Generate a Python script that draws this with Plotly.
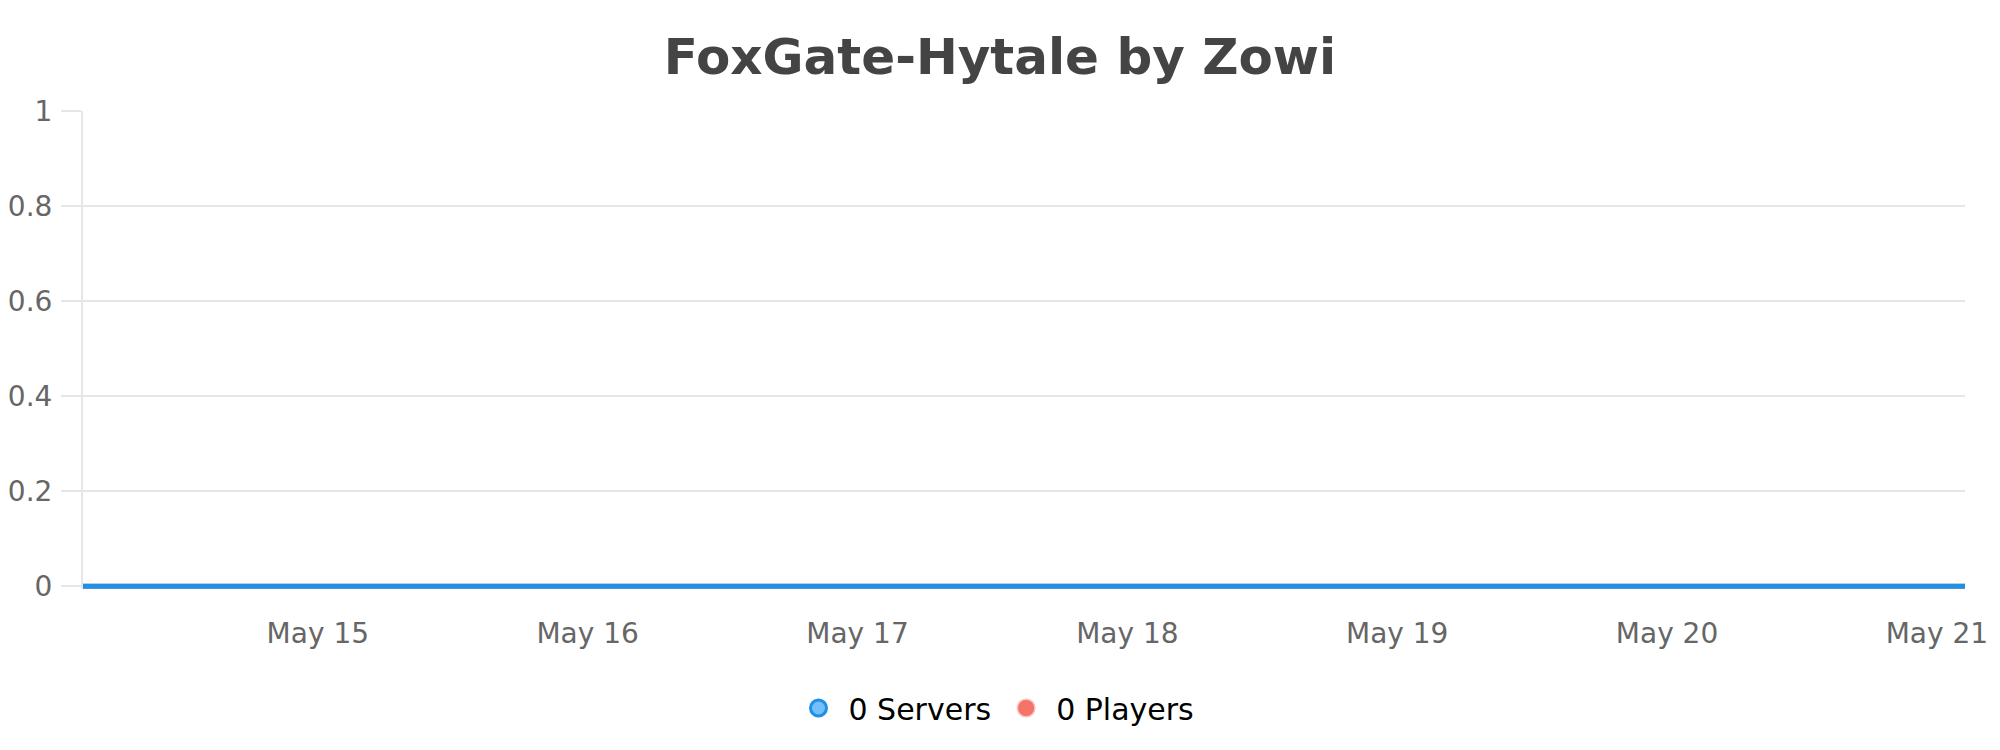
import plotly.graph_objects as go

# ---- data ----
times = [
    "2024-05-14 03:00", "2024-05-14 15:00", "2024-05-15 03:00", "2024-05-15 15:00",
    "2024-05-16 03:00", "2024-05-16 15:00", "2024-05-17 03:00", "2024-05-17 15:00",
    "2024-05-18 03:00", "2024-05-18 15:00", "2024-05-19 03:00", "2024-05-19 15:00",
    "2024-05-20 03:00", "2024-05-20 15:00", "2024-05-21 02:30",
]
servers = [0, 0, 0, 0, 0, 0, 0, 0, 0, 0, 0, 0, 0, 0, 0]
players = [0, 0, 0, 0, 0, 0, 0, 0, 0, 0, 0, 0, 0, 0, 0]
y_ticks = [0, 0.2, 0.4, 0.6, 0.8, 1]
title_text = "FoxGate-Hytale by Zowi"

FONT = "DejaVu Sans"
GRID = "#e6e6e6"

fig = go.Figure()
# data lines
fig.add_trace(go.Scatter(
    x=times, y=players, mode="lines", name=f"{players[-1]} Players",
    line=dict(color="#F47468", width=5), showlegend=False,
))
fig.add_trace(go.Scatter(
    x=times, y=servers, mode="lines", name=f"{servers[-1]} Servers",
    line=dict(color="#1E90E6", width=5), showlegend=False,
))
# legend entries (circle symbols)
fig.add_trace(go.Scatter(
    x=[None], y=[None], mode="markers", name=f"{servers[-1]} Servers",
    marker=dict(color="#74BEF9", size=16, line=dict(color="#1E90E6", width=3)),
))
fig.add_trace(go.Scatter(
    x=[None], y=[None], mode="markers", name=f"{players[-1]} Players",
    marker=dict(color="#F47468", size=16, line=dict(color="rgba(244,116,104,0.45)", width=3)),
))

fig.update_layout(
    width=2000, height=750,
    margin=dict(l=83, r=35, t=111, b=161, autoexpand=False),
    paper_bgcolor="white", plot_bgcolor="white",
    font=dict(family=FONT, color="#666666", size=28),
    title=dict(text=f"<b>{title_text}</b>", x=0.5, xref="container", xanchor="center",
               y=1 - 56 / 750, yref="container", yanchor="middle",
               font=dict(family=FONT, size=50, color="#444444")),
    showlegend=True,
    legend=dict(orientation="h", x=0.497, xref="container", xanchor="center",
                y=1 - 708 / 750, yref="container", yanchor="middle",
                font=dict(family=FONT, size=30, color="#000000"),
                itemsizing="trace", itemwidth=50),
    xaxis=dict(
        type="date", range=["2024-05-14 03:07", "2024-05-21 02:30"],
        tick0="2024-05-15", dtick=86400000, tickformat="%b %d",
        showgrid=False, zeroline=False, showline=False,
        ticks="", ticklabelstandoff=25, automargin=False,
        tickfont=dict(family=FONT, size=28, color="#666666"),
    ),
    yaxis=dict(
        range=[-0.006, 1], tickvals=y_ticks,
        showgrid=True, gridcolor=GRID, gridwidth=2, zeroline=False,
        showline=True, linecolor=GRID, linewidth=2,
        ticks="outside", ticklen=20, tickcolor=GRID, tickwidth=2,
        ticklabelstandoff=3, automargin=False,
        tickfont=dict(family=FONT, size=28, color="#666666"),
    ),
)

fig.write_html("out.html")
